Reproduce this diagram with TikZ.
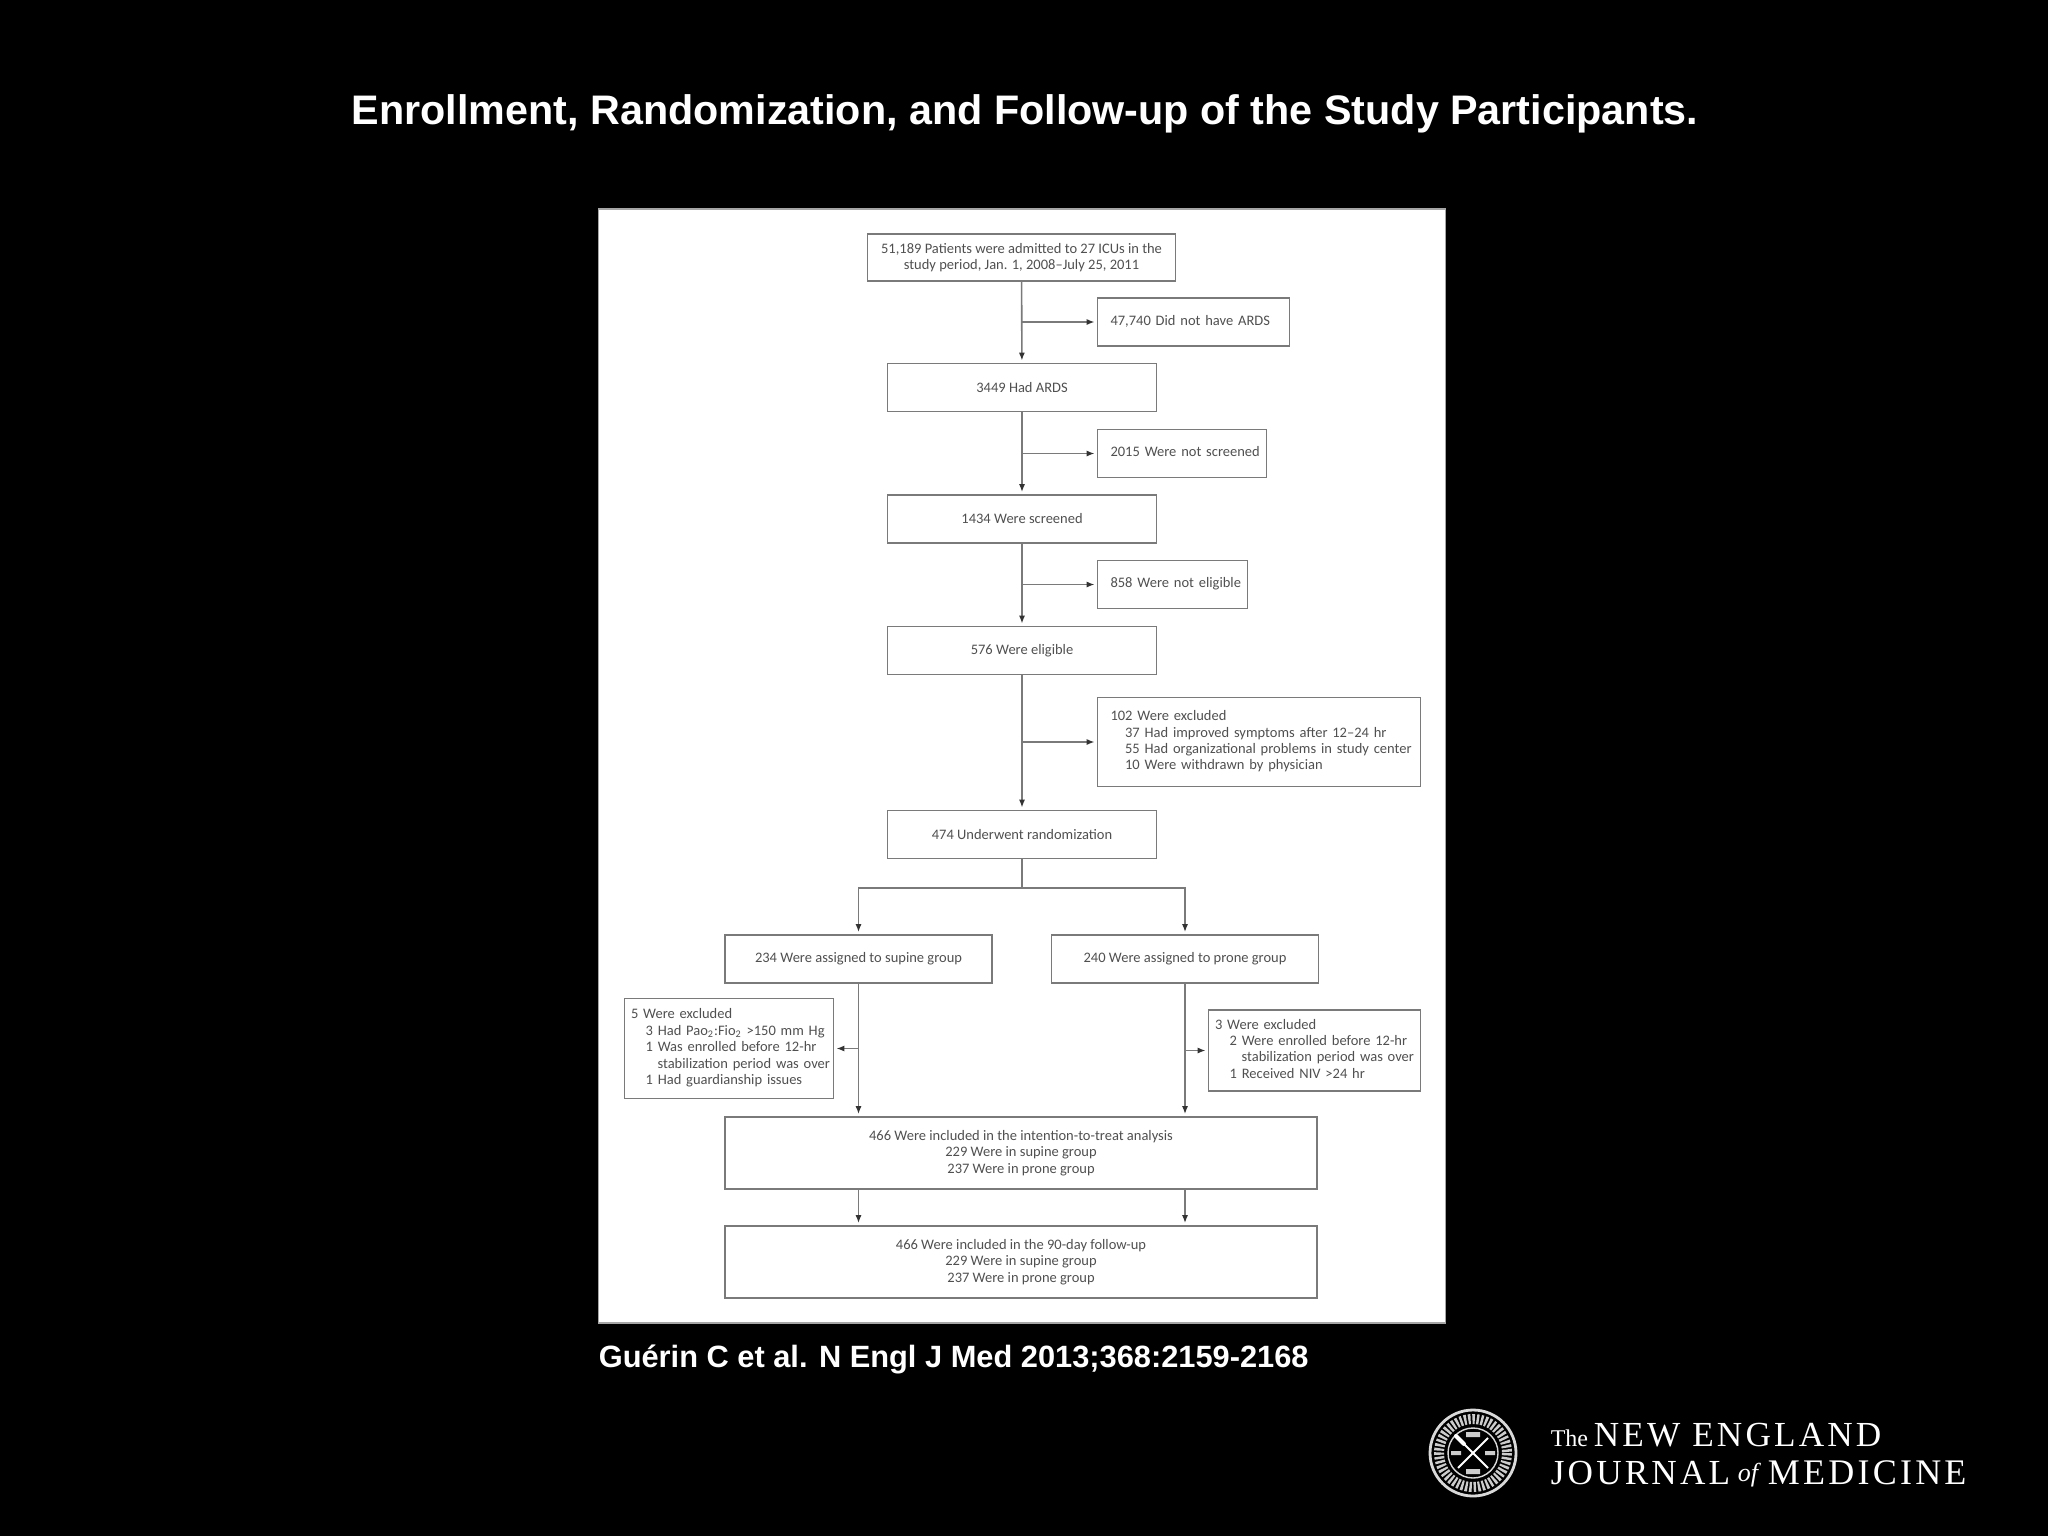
\documentclass[tikz,border=0pt]{standalone}
\usepackage{fontspec}
\setmainfont{Carlito}
\newfontfamily\titlefont{Liberation Sans}
\newfontfamily\logofont[LetterSpace=9]{Liberation Serif}
\newfontfamily\logosmall{Liberation Serif}
\usetikzlibrary{positioning,calc,arrows.meta}
\definecolor{inktxt}{HTML}{505050}
\definecolor{inkln}{HTML}{7A7A7A}
\newcommand{\sublvl}{\hspace*{7.3pt}}
\newcommand{\contlvl}{\hspace*{13.3pt}}
\newcommand{\sidelines}[1]{\begin{tabular}{@{}l@{}}#1\end{tabular}}
\begin{document}
\begin{tikzpicture}[x=0.5pt,y=-0.5pt,>=latex,line width=0.8pt,
        blk/.style={draw=inkln,fill=white,text=inktxt,inner xsep=0pt,inner ysep=0pt,align=center,font=\fontsize{7.25}{8.2}\selectfont},
        sidebox/.style={blk,align=left,text width=#1,inner xsep=6.5pt},
        sidetight/.style={blk,align=left,text width=#1,inner xsep=3.25pt},
        lnk/.style={draw=inkln,shorten >=1pt,-{Latex[length=4pt,width=3pt,color=black!80]}},
        lbl/.style={text=white,font=\titlefont\bfseries}]
        \useasboundingbox (0,0) rectangle (2048,1536);
        \fill[black] (0,0) rectangle (2048,1536);
        \node[lbl,font=\titlefont\bfseries\fontsize{20.64}{24}\selectfont] (title) at (1025,114) {Enrollment, Randomization, and Follow-up of the Study Participants.};
        \node[draw=gray!70,fill=white,line width=0.6pt,minimum width=423.5pt,minimum height=557pt] (paper) at (1022,766) {};
        \node[lbl,font=\titlefont\bfseries\fontsize{15.4}{18}\selectfont,anchor=west,inner sep=0pt] (cite) at (598,1359) {Guérin C et al. N Engl J Med 2013;368:2159-2168};

        \node[blk,minimum width=154pt,minimum height=23.5pt] (adm) at (1021.5,257.5) {51,189 Patients were admitted to 27 ICUs in the\\study period, Jan. 1, 2008–July 25, 2011};
        \node[sidebox=83pt,minimum height=24pt] (noards) at (1193.5,322) {\sidelines{47,740 Did not have ARDS}};
        \node[blk,minimum width=134.5pt,minimum height=24pt] (ards) at (1022,387.5) {3449 Had ARDS};
        \node[sidebox=71.5pt,minimum height=24pt] (noscr) at (1182,453.5) {\sidelines{2015 Were not screened}};
        \node[blk,minimum width=134.5pt,minimum height=24pt] (scr) at (1022,519) {1434 Were screened};
        \node[sidebox=62pt,minimum height=24pt] (noelig) at (1172.5,584.5) {\sidelines{858 Were not eligible}};
        \node[blk,minimum width=134.5pt,minimum height=24pt] (elig) at (1022,650.5) {576 Were eligible};
        \node[sidebox=148.5pt,minimum height=44.5pt] (exclA) at (1259,742) {\sidelines{102 Were excluded\\\sublvl 37 Had improved symptoms after 12–24 hr\\\sublvl 55 Had organizational problems in study center\\\sublvl 10 Were withdrawn by physician}};
        \node[blk,minimum width=134.5pt,minimum height=24pt] (rand) at (1022,834.5) {474 Underwent randomization};
        \coordinate (split) at (1022,888);
        \node[blk,minimum width=133.5pt,minimum height=24pt] (sup) at (858.5,959) {234 Were assigned to supine group};
        \node[blk,minimum width=133.5pt,minimum height=24pt] (pro) at (1185,959) {240 Were assigned to prone group};
        \node[sidetight=98pt,minimum height=50pt] (exclS) at (729,1048.5) {\sidelines{5 Were excluded\\\sublvl 3 Had Pao\textsubscript{2}:Fio\textsubscript{2} >150 mm Hg\\\sublvl 1 Was enrolled before 12-hr\\\contlvl stabilization period was over\\\sublvl 1 Had guardianship issues}};
        \node[sidetight=99.5pt,minimum height=40.5pt] (exclP) at (1314.5,1050.5) {\sidelines{3 Were excluded\\\sublvl 2 Were enrolled before 12-hr\\\contlvl stabilization period was over\\\sublvl 1 Received NIV >24 hr}};
        \node[blk,minimum width=296pt,minimum height=36pt] (itt) at (1021,1153) {466 Were included in the intention-to-treat analysis\\229 Were in supine group\\237 Were in prone group};
        \node[blk,minimum width=296pt,minimum height=36pt] (fu) at (1021,1262) {466 Were included in the 90-day follow-up\\229 Were in supine group\\237 Were in prone group};

        \draw[lnk](adm)--(ards);\draw[lnk](ards)--(scr);\draw[lnk](scr)--(elig);\draw[lnk](elig)--(rand);
        \draw[lnk](adm.south |- noards.west)--(noards.west);
        \draw[lnk](ards.south |- noscr.west)--(noscr.west);
        \draw[lnk](scr.south |- noelig.west)--(noelig.west);
        \draw[lnk](elig.south |- exclA.west)--(exclA.west);
        \draw[draw=inkln](rand)--(split);
        \draw[lnk](split)-|(sup);\draw[lnk](split)-|(pro);
        \draw[lnk](sup)--(sup |- itt.north);\draw[lnk](pro)--(pro |- itt.north);
        \draw[lnk](sup |- exclS.east)--(exclS.east);
        \draw[lnk](pro |- exclP.west)--(exclP.west);
        \draw[lnk](sup |- itt.south)--(sup |- fu.north);\draw[lnk](pro |- itt.south)--(pro |- fu.north);

        \draw[white!85!black,line width=1.4pt] (1473,1453) circle (43);
        \draw[white!80!black,line width=5pt,dash pattern=on 1.2pt off 0.9pt] (1473,1453) circle (34);
        \draw[white!85!black,line width=0.7pt] (1473,1453) circle (25);
        \draw[white,line width=1pt] (1458,1438)--(1488,1468) (1488,1438)--(1458,1468);
        \draw[white,line width=2pt,line cap=round] (1456,1436)--(1464,1444);
        \fill[white!80!black] (1466,1432) rectangle (1480,1437) (1466,1469) rectangle (1480,1474) (1451,1451) rectangle (1461,1455) (1485,1451) rectangle (1495,1455);
        \node[text=white,anchor=west,inner sep=0pt,font=\logosmall\fontsize{12}{12}\selectfont] (the) at (1550,1438) {The};
        \node[text=white,anchor=west,inner sep=0pt,font=\logofont\fontsize{17.6}{18}\selectfont] (ne) at (1593,1435) {NEW ENGLAND};
        \node[text=white,anchor=west,inner sep=0pt,font=\logofont\fontsize{17.6}{18}\selectfont] (jn) at (1550,1473) {JOURNAL};
        \node[text=white,anchor=west,inner sep=0pt,font=\logosmall\itshape\fontsize{13}{13}\selectfont] (of) at (1737,1475) {of};
        \node[text=white,anchor=west,inner sep=0pt,font=\logofont\fontsize{18}{18}\selectfont] (med) at (1767,1473) {MEDICINE};
      \end{tikzpicture}
\end{document}
